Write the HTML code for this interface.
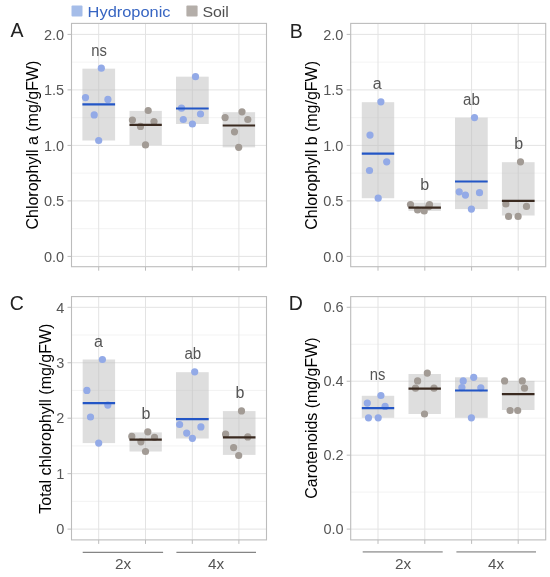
<!DOCTYPE html>
<html><head><meta charset="utf-8"><style>
html,body{margin:0;padding:0;background:#fff;}
body{width:550px;height:577px;overflow:hidden;}
svg{display:block;font-family:"Liberation Sans", sans-serif;will-change:transform;}
</style></head><body>
<svg width="550" height="577" viewBox="0 0 550 577">
<line x1="71.5" x2="266.5" y1="228.65" y2="228.65" stroke="#f0f0f0" stroke-width="0.8"/>
<line x1="71.5" x2="266.5" y1="173.15" y2="173.15" stroke="#f0f0f0" stroke-width="0.8"/>
<line x1="71.5" x2="266.5" y1="117.65" y2="117.65" stroke="#f0f0f0" stroke-width="0.8"/>
<line x1="71.5" x2="266.5" y1="62.15" y2="62.15" stroke="#f0f0f0" stroke-width="0.8"/>
<line x1="71.5" x2="266.5" y1="256.40" y2="256.40" stroke="#e3e3e3" stroke-width="1"/>
<line x1="71.5" x2="266.5" y1="200.90" y2="200.90" stroke="#e3e3e3" stroke-width="1"/>
<line x1="71.5" x2="266.5" y1="145.40" y2="145.40" stroke="#e3e3e3" stroke-width="1"/>
<line x1="71.5" x2="266.5" y1="89.90" y2="89.90" stroke="#e3e3e3" stroke-width="1"/>
<line x1="71.5" x2="266.5" y1="34.40" y2="34.40" stroke="#e3e3e3" stroke-width="1"/>
<line x1="98.70" x2="98.70" y1="23.4" y2="266.7" stroke="#e3e3e3" stroke-width="1"/>
<line x1="145.50" x2="145.50" y1="23.4" y2="266.7" stroke="#e3e3e3" stroke-width="1"/>
<line x1="192.30" x2="192.30" y1="23.4" y2="266.7" stroke="#e3e3e3" stroke-width="1"/>
<line x1="238.90" x2="238.90" y1="23.4" y2="266.7" stroke="#e3e3e3" stroke-width="1"/>
<line x1="67.5" x2="71.5" y1="256.40" y2="256.40" stroke="#bcbcbc" stroke-width="1"/>
<text x="64.2" y="261.60" text-anchor="end" font-size="14.5" fill="#555555">0.0</text>
<line x1="67.5" x2="71.5" y1="200.90" y2="200.90" stroke="#bcbcbc" stroke-width="1"/>
<text x="64.2" y="206.10" text-anchor="end" font-size="14.5" fill="#555555">0.5</text>
<line x1="67.5" x2="71.5" y1="145.40" y2="145.40" stroke="#bcbcbc" stroke-width="1"/>
<text x="64.2" y="150.60" text-anchor="end" font-size="14.5" fill="#555555">1.0</text>
<line x1="67.5" x2="71.5" y1="89.90" y2="89.90" stroke="#bcbcbc" stroke-width="1"/>
<text x="64.2" y="95.10" text-anchor="end" font-size="14.5" fill="#555555">1.5</text>
<line x1="67.5" x2="71.5" y1="34.40" y2="34.40" stroke="#bcbcbc" stroke-width="1"/>
<text x="64.2" y="39.60" text-anchor="end" font-size="14.5" fill="#555555">2.0</text>
<line x1="98.70" x2="98.70" y1="266.7" y2="270.7" stroke="#bcbcbc" stroke-width="1"/>
<line x1="145.50" x2="145.50" y1="266.7" y2="270.7" stroke="#bcbcbc" stroke-width="1"/>
<line x1="192.30" x2="192.30" y1="266.7" y2="270.7" stroke="#bcbcbc" stroke-width="1"/>
<line x1="238.90" x2="238.90" y1="266.7" y2="270.7" stroke="#bcbcbc" stroke-width="1"/>
<text transform="translate(37.6,145.1) rotate(-90)" text-anchor="middle" font-size="15.9" textLength="168.9" lengthAdjust="spacingAndGlyphs" fill="#000">Chlorophyll a (mg/gFW)</text>
<rect x="82.4" y="68.7" width="32.70" height="71.80" fill="#bdbdbd" fill-opacity="0.5"/>
<circle cx="101.3" cy="68.2" r="3.6" fill="#93aae7"/>
<circle cx="85.5" cy="97.6" r="3.6" fill="#93aae7"/>
<circle cx="107.9" cy="99.4" r="3.6" fill="#93aae7"/>
<circle cx="94.2" cy="114.9" r="3.6" fill="#93aae7"/>
<circle cx="98.7" cy="140.5" r="3.6" fill="#93aae7"/>
<line x1="82.4" x2="115.1" y1="104.3" y2="104.3" stroke="#2356c6" stroke-width="2.2"/>
<rect x="129.5" y="110.9" width="32.30" height="34.20" fill="#bdbdbd" fill-opacity="0.5"/>
<circle cx="148.2" cy="110.5" r="3.6" fill="#a29b95"/>
<circle cx="132.4" cy="120" r="3.6" fill="#a29b95"/>
<circle cx="154" cy="121.5" r="3.6" fill="#a29b95"/>
<circle cx="140.5" cy="126.4" r="3.6" fill="#a29b95"/>
<circle cx="145.5" cy="144.9" r="3.6" fill="#a29b95"/>
<line x1="129.5" x2="161.8" y1="124.9" y2="124.9" stroke="#3a2a20" stroke-width="2.2"/>
<rect x="176.0" y="76.7" width="32.70" height="47.30" fill="#bdbdbd" fill-opacity="0.5"/>
<circle cx="195.5" cy="76.7" r="3.6" fill="#93aae7"/>
<circle cx="181.5" cy="108.2" r="3.6" fill="#93aae7"/>
<circle cx="200.5" cy="114" r="3.6" fill="#93aae7"/>
<circle cx="183.3" cy="119.5" r="3.6" fill="#93aae7"/>
<circle cx="192.4" cy="124" r="3.6" fill="#93aae7"/>
<line x1="176.0" x2="208.7" y1="108.5" y2="108.5" stroke="#2356c6" stroke-width="2.2"/>
<rect x="222.7" y="112.2" width="32.40" height="35.10" fill="#bdbdbd" fill-opacity="0.5"/>
<circle cx="242" cy="111.8" r="3.6" fill="#a29b95"/>
<circle cx="225.1" cy="117.6" r="3.6" fill="#a29b95"/>
<circle cx="247.8" cy="119.5" r="3.6" fill="#a29b95"/>
<circle cx="234.5" cy="131.8" r="3.6" fill="#a29b95"/>
<circle cx="238.7" cy="147.3" r="3.6" fill="#a29b95"/>
<line x1="222.7" x2="255.1" y1="125.5" y2="125.5" stroke="#3a2a20" stroke-width="2.2"/>
<rect x="71.5" y="23.4" width="195.0" height="243.3" fill="none" stroke="#bcbcbc" stroke-width="1.1"/>
<text x="99.0" y="55.7" text-anchor="middle" font-size="16" textLength="15.6" lengthAdjust="spacingAndGlyphs" fill="#555555">ns</text>
<line x1="350.7" x2="545.7" y1="228.65" y2="228.65" stroke="#f0f0f0" stroke-width="0.8"/>
<line x1="350.7" x2="545.7" y1="173.15" y2="173.15" stroke="#f0f0f0" stroke-width="0.8"/>
<line x1="350.7" x2="545.7" y1="117.65" y2="117.65" stroke="#f0f0f0" stroke-width="0.8"/>
<line x1="350.7" x2="545.7" y1="62.15" y2="62.15" stroke="#f0f0f0" stroke-width="0.8"/>
<line x1="350.7" x2="545.7" y1="256.40" y2="256.40" stroke="#e3e3e3" stroke-width="1"/>
<line x1="350.7" x2="545.7" y1="200.90" y2="200.90" stroke="#e3e3e3" stroke-width="1"/>
<line x1="350.7" x2="545.7" y1="145.40" y2="145.40" stroke="#e3e3e3" stroke-width="1"/>
<line x1="350.7" x2="545.7" y1="89.90" y2="89.90" stroke="#e3e3e3" stroke-width="1"/>
<line x1="350.7" x2="545.7" y1="34.40" y2="34.40" stroke="#e3e3e3" stroke-width="1"/>
<line x1="378.00" x2="378.00" y1="23.4" y2="266.7" stroke="#e3e3e3" stroke-width="1"/>
<line x1="424.80" x2="424.80" y1="23.4" y2="266.7" stroke="#e3e3e3" stroke-width="1"/>
<line x1="471.60" x2="471.60" y1="23.4" y2="266.7" stroke="#e3e3e3" stroke-width="1"/>
<line x1="518.20" x2="518.20" y1="23.4" y2="266.7" stroke="#e3e3e3" stroke-width="1"/>
<line x1="346.7" x2="350.7" y1="256.40" y2="256.40" stroke="#bcbcbc" stroke-width="1"/>
<text x="343.4" y="261.60" text-anchor="end" font-size="14.5" fill="#555555">0.0</text>
<line x1="346.7" x2="350.7" y1="200.90" y2="200.90" stroke="#bcbcbc" stroke-width="1"/>
<text x="343.4" y="206.10" text-anchor="end" font-size="14.5" fill="#555555">0.5</text>
<line x1="346.7" x2="350.7" y1="145.40" y2="145.40" stroke="#bcbcbc" stroke-width="1"/>
<text x="343.4" y="150.60" text-anchor="end" font-size="14.5" fill="#555555">1.0</text>
<line x1="346.7" x2="350.7" y1="89.90" y2="89.90" stroke="#bcbcbc" stroke-width="1"/>
<text x="343.4" y="95.10" text-anchor="end" font-size="14.5" fill="#555555">1.5</text>
<line x1="346.7" x2="350.7" y1="34.40" y2="34.40" stroke="#bcbcbc" stroke-width="1"/>
<text x="343.4" y="39.60" text-anchor="end" font-size="14.5" fill="#555555">2.0</text>
<line x1="378.00" x2="378.00" y1="266.7" y2="270.7" stroke="#bcbcbc" stroke-width="1"/>
<line x1="424.80" x2="424.80" y1="266.7" y2="270.7" stroke="#bcbcbc" stroke-width="1"/>
<line x1="471.60" x2="471.60" y1="266.7" y2="270.7" stroke="#bcbcbc" stroke-width="1"/>
<line x1="518.20" x2="518.20" y1="266.7" y2="270.7" stroke="#bcbcbc" stroke-width="1"/>
<text transform="translate(316.9,145.4) rotate(-90)" text-anchor="middle" font-size="15.9" textLength="168.8" lengthAdjust="spacingAndGlyphs" fill="#000">Chlorophyll b (mg/gFW)</text>
<rect x="361.8" y="102.2" width="32.40" height="96.00" fill="#bdbdbd" fill-opacity="0.5"/>
<circle cx="380.9" cy="101.8" r="3.6" fill="#93aae7"/>
<circle cx="370" cy="135.1" r="3.6" fill="#93aae7"/>
<circle cx="386.7" cy="161.8" r="3.6" fill="#93aae7"/>
<circle cx="369.5" cy="170.5" r="3.6" fill="#93aae7"/>
<circle cx="378.2" cy="198.2" r="3.6" fill="#93aae7"/>
<line x1="361.8" x2="394.2" y1="153.6" y2="153.6" stroke="#2356c6" stroke-width="2.2"/>
<rect x="408.5" y="202.7" width="32.40" height="8.20" fill="#bdbdbd" fill-opacity="0.5"/>
<circle cx="410.5" cy="204.5" r="3.6" fill="#a29b95"/>
<circle cx="417.6" cy="210" r="3.6" fill="#a29b95"/>
<circle cx="424.2" cy="210.9" r="3.6" fill="#a29b95"/>
<circle cx="429.5" cy="204.5" r="3.6" fill="#a29b95"/>
<circle cx="428.8" cy="206.6" r="3.6" fill="#a29b95"/>
<line x1="408.5" x2="440.9" y1="207.6" y2="207.6" stroke="#3a2a20" stroke-width="2.2"/>
<rect x="455.0" y="117.6" width="32.70" height="91.50" fill="#bdbdbd" fill-opacity="0.5"/>
<circle cx="474.5" cy="117.6" r="3.6" fill="#93aae7"/>
<circle cx="459.2" cy="191.8" r="3.6" fill="#93aae7"/>
<circle cx="465.4" cy="195.1" r="3.6" fill="#93aae7"/>
<circle cx="479.5" cy="192.7" r="3.6" fill="#93aae7"/>
<circle cx="471.4" cy="209.1" r="3.6" fill="#93aae7"/>
<line x1="455.0" x2="487.7" y1="181.5" y2="181.5" stroke="#2356c6" stroke-width="2.2"/>
<rect x="501.9" y="162.2" width="32.70" height="53.30" fill="#bdbdbd" fill-opacity="0.5"/>
<circle cx="520.5" cy="161.8" r="3.6" fill="#a29b95"/>
<circle cx="505.9" cy="204" r="3.6" fill="#a29b95"/>
<circle cx="526.5" cy="206.4" r="3.6" fill="#a29b95"/>
<circle cx="508.6" cy="216.4" r="3.6" fill="#a29b95"/>
<circle cx="518.1" cy="216.4" r="3.6" fill="#a29b95"/>
<line x1="501.9" x2="534.6" y1="200.9" y2="200.9" stroke="#3a2a20" stroke-width="2.2"/>
<rect x="350.7" y="23.4" width="195.0" height="243.3" fill="none" stroke="#bcbcbc" stroke-width="1.1"/>
<text x="377.3" y="88.5" text-anchor="middle" font-size="16" fill="#555555">a</text>
<text x="424.6" y="190.0" text-anchor="middle" font-size="16" fill="#555555">b</text>
<text x="471.4" y="104.5" text-anchor="middle" font-size="16" textLength="16.8" lengthAdjust="spacingAndGlyphs" fill="#555555">ab</text>
<text x="518.7" y="148.7" text-anchor="middle" font-size="16" fill="#555555">b</text>
<line x1="71.5" x2="266.5" y1="501.38" y2="501.38" stroke="#f0f0f0" stroke-width="0.8"/>
<line x1="71.5" x2="266.5" y1="445.93" y2="445.93" stroke="#f0f0f0" stroke-width="0.8"/>
<line x1="71.5" x2="266.5" y1="390.48" y2="390.48" stroke="#f0f0f0" stroke-width="0.8"/>
<line x1="71.5" x2="266.5" y1="335.02" y2="335.02" stroke="#f0f0f0" stroke-width="0.8"/>
<line x1="71.5" x2="266.5" y1="529.10" y2="529.10" stroke="#e3e3e3" stroke-width="1"/>
<line x1="71.5" x2="266.5" y1="473.65" y2="473.65" stroke="#e3e3e3" stroke-width="1"/>
<line x1="71.5" x2="266.5" y1="418.20" y2="418.20" stroke="#e3e3e3" stroke-width="1"/>
<line x1="71.5" x2="266.5" y1="362.75" y2="362.75" stroke="#e3e3e3" stroke-width="1"/>
<line x1="71.5" x2="266.5" y1="307.30" y2="307.30" stroke="#e3e3e3" stroke-width="1"/>
<line x1="98.70" x2="98.70" y1="296.6" y2="539.9000000000001" stroke="#e3e3e3" stroke-width="1"/>
<line x1="145.50" x2="145.50" y1="296.6" y2="539.9000000000001" stroke="#e3e3e3" stroke-width="1"/>
<line x1="192.30" x2="192.30" y1="296.6" y2="539.9000000000001" stroke="#e3e3e3" stroke-width="1"/>
<line x1="238.90" x2="238.90" y1="296.6" y2="539.9000000000001" stroke="#e3e3e3" stroke-width="1"/>
<line x1="67.5" x2="71.5" y1="529.10" y2="529.10" stroke="#bcbcbc" stroke-width="1"/>
<text x="64.4" y="534.30" text-anchor="end" font-size="14.5" fill="#555555">0</text>
<line x1="67.5" x2="71.5" y1="473.65" y2="473.65" stroke="#bcbcbc" stroke-width="1"/>
<text x="64.4" y="478.85" text-anchor="end" font-size="14.5" fill="#555555">1</text>
<line x1="67.5" x2="71.5" y1="418.20" y2="418.20" stroke="#bcbcbc" stroke-width="1"/>
<text x="64.4" y="423.40" text-anchor="end" font-size="14.5" fill="#555555">2</text>
<line x1="67.5" x2="71.5" y1="362.75" y2="362.75" stroke="#bcbcbc" stroke-width="1"/>
<text x="64.4" y="367.95" text-anchor="end" font-size="14.5" fill="#555555">3</text>
<line x1="67.5" x2="71.5" y1="307.30" y2="307.30" stroke="#bcbcbc" stroke-width="1"/>
<text x="64.4" y="312.50" text-anchor="end" font-size="14.5" fill="#555555">4</text>
<line x1="98.70" x2="98.70" y1="539.9000000000001" y2="543.9000000000001" stroke="#bcbcbc" stroke-width="1"/>
<line x1="145.50" x2="145.50" y1="539.9000000000001" y2="543.9000000000001" stroke="#bcbcbc" stroke-width="1"/>
<line x1="192.30" x2="192.30" y1="539.9000000000001" y2="543.9000000000001" stroke="#bcbcbc" stroke-width="1"/>
<line x1="238.90" x2="238.90" y1="539.9000000000001" y2="543.9000000000001" stroke="#bcbcbc" stroke-width="1"/>
<text transform="translate(51.2,418.7) rotate(-90)" text-anchor="middle" font-size="15.9" textLength="190.1" lengthAdjust="spacingAndGlyphs" fill="#000">Total chlorophyll (mg/gFW)</text>
<rect x="82.7" y="359.5" width="32.40" height="83.60" fill="#bdbdbd" fill-opacity="0.5"/>
<circle cx="102.4" cy="359.5" r="3.6" fill="#93aae7"/>
<circle cx="86.9" cy="390.4" r="3.6" fill="#93aae7"/>
<circle cx="107.8" cy="405.1" r="3.6" fill="#93aae7"/>
<circle cx="90.5" cy="417" r="3.6" fill="#93aae7"/>
<circle cx="98.7" cy="443.1" r="3.6" fill="#93aae7"/>
<line x1="82.7" x2="115.1" y1="403.1" y2="403.1" stroke="#2356c6" stroke-width="2.2"/>
<rect x="129.5" y="432.4" width="32.30" height="19.10" fill="#bdbdbd" fill-opacity="0.5"/>
<circle cx="147.8" cy="431.8" r="3.6" fill="#a29b95"/>
<circle cx="131.8" cy="436.4" r="3.6" fill="#a29b95"/>
<circle cx="154.5" cy="437.3" r="3.6" fill="#a29b95"/>
<circle cx="140.9" cy="441.8" r="3.6" fill="#a29b95"/>
<circle cx="145.5" cy="451.5" r="3.6" fill="#a29b95"/>
<line x1="129.5" x2="161.8" y1="439.6" y2="439.6" stroke="#3a2a20" stroke-width="2.2"/>
<rect x="176.0" y="372.2" width="32.70" height="66.30" fill="#bdbdbd" fill-opacity="0.5"/>
<circle cx="194.7" cy="371.8" r="3.6" fill="#93aae7"/>
<circle cx="179.6" cy="424.5" r="3.6" fill="#93aae7"/>
<circle cx="200.9" cy="426.9" r="3.6" fill="#93aae7"/>
<circle cx="186.7" cy="433.1" r="3.6" fill="#93aae7"/>
<circle cx="192.4" cy="438.3" r="3.6" fill="#93aae7"/>
<line x1="176.0" x2="208.7" y1="419.1" y2="419.1" stroke="#2356c6" stroke-width="2.2"/>
<rect x="222.9" y="411.1" width="32.60" height="43.80" fill="#bdbdbd" fill-opacity="0.5"/>
<circle cx="241.5" cy="410.9" r="3.6" fill="#a29b95"/>
<circle cx="225.6" cy="434.2" r="3.6" fill="#a29b95"/>
<circle cx="247.8" cy="436.9" r="3.6" fill="#a29b95"/>
<circle cx="233.6" cy="447.6" r="3.6" fill="#a29b95"/>
<circle cx="238.7" cy="455.5" r="3.6" fill="#a29b95"/>
<line x1="222.9" x2="255.5" y1="437.3" y2="437.3" stroke="#3a2a20" stroke-width="2.2"/>
<rect x="71.5" y="296.6" width="195.0" height="243.3" fill="none" stroke="#bcbcbc" stroke-width="1.1"/>
<text x="98.5" y="346.7" text-anchor="middle" font-size="16" fill="#555555">a</text>
<text x="146.0" y="419.1" text-anchor="middle" font-size="16" fill="#555555">b</text>
<text x="192.8" y="359.1" text-anchor="middle" font-size="16" textLength="16.8" lengthAdjust="spacingAndGlyphs" fill="#555555">ab</text>
<text x="239.9" y="397.8" text-anchor="middle" font-size="16" fill="#555555">b</text>
<line x1="350.7" x2="545.7" y1="492.13" y2="492.13" stroke="#f0f0f0" stroke-width="0.8"/>
<line x1="350.7" x2="545.7" y1="418.19" y2="418.19" stroke="#f0f0f0" stroke-width="0.8"/>
<line x1="350.7" x2="545.7" y1="344.25" y2="344.25" stroke="#f0f0f0" stroke-width="0.8"/>
<line x1="350.7" x2="545.7" y1="529.10" y2="529.10" stroke="#e3e3e3" stroke-width="1"/>
<line x1="350.7" x2="545.7" y1="455.16" y2="455.16" stroke="#e3e3e3" stroke-width="1"/>
<line x1="350.7" x2="545.7" y1="381.22" y2="381.22" stroke="#e3e3e3" stroke-width="1"/>
<line x1="350.7" x2="545.7" y1="307.28" y2="307.28" stroke="#e3e3e3" stroke-width="1"/>
<line x1="378.00" x2="378.00" y1="296.6" y2="539.9000000000001" stroke="#e3e3e3" stroke-width="1"/>
<line x1="424.80" x2="424.80" y1="296.6" y2="539.9000000000001" stroke="#e3e3e3" stroke-width="1"/>
<line x1="471.60" x2="471.60" y1="296.6" y2="539.9000000000001" stroke="#e3e3e3" stroke-width="1"/>
<line x1="518.20" x2="518.20" y1="296.6" y2="539.9000000000001" stroke="#e3e3e3" stroke-width="1"/>
<line x1="346.7" x2="350.7" y1="529.10" y2="529.10" stroke="#bcbcbc" stroke-width="1"/>
<text x="343.6" y="534.30" text-anchor="end" font-size="14.5" fill="#555555">0.0</text>
<line x1="346.7" x2="350.7" y1="455.16" y2="455.16" stroke="#bcbcbc" stroke-width="1"/>
<text x="343.6" y="460.36" text-anchor="end" font-size="14.5" fill="#555555">0.2</text>
<line x1="346.7" x2="350.7" y1="381.22" y2="381.22" stroke="#bcbcbc" stroke-width="1"/>
<text x="343.6" y="386.42" text-anchor="end" font-size="14.5" fill="#555555">0.4</text>
<line x1="346.7" x2="350.7" y1="307.28" y2="307.28" stroke="#bcbcbc" stroke-width="1"/>
<text x="343.6" y="312.48" text-anchor="end" font-size="14.5" fill="#555555">0.6</text>
<line x1="378.00" x2="378.00" y1="539.9000000000001" y2="543.9000000000001" stroke="#bcbcbc" stroke-width="1"/>
<line x1="424.80" x2="424.80" y1="539.9000000000001" y2="543.9000000000001" stroke="#bcbcbc" stroke-width="1"/>
<line x1="471.60" x2="471.60" y1="539.9000000000001" y2="543.9000000000001" stroke="#bcbcbc" stroke-width="1"/>
<line x1="518.20" x2="518.20" y1="539.9000000000001" y2="543.9000000000001" stroke="#bcbcbc" stroke-width="1"/>
<text transform="translate(316.9,418.05) rotate(-90)" text-anchor="middle" font-size="15.9" textLength="161.2" lengthAdjust="spacingAndGlyphs" fill="#000">Carotenoids (mg/gFW)</text>
<rect x="361.8" y="395.8" width="32.40" height="22.00" fill="#bdbdbd" fill-opacity="0.5"/>
<circle cx="380.9" cy="395.5" r="3.6" fill="#93aae7"/>
<circle cx="367.3" cy="403.1" r="3.6" fill="#93aae7"/>
<circle cx="385.1" cy="406.4" r="3.6" fill="#93aae7"/>
<circle cx="368.5" cy="417.8" r="3.6" fill="#93aae7"/>
<circle cx="378.2" cy="417.8" r="3.6" fill="#93aae7"/>
<line x1="361.8" x2="394.2" y1="408.2" y2="408.2" stroke="#2356c6" stroke-width="2.2"/>
<rect x="408.5" y="374.0" width="32.40" height="40.00" fill="#bdbdbd" fill-opacity="0.5"/>
<circle cx="427.3" cy="373.1" r="3.6" fill="#a29b95"/>
<circle cx="417.6" cy="380.9" r="3.6" fill="#a29b95"/>
<circle cx="415.5" cy="388.2" r="3.6" fill="#a29b95"/>
<circle cx="434" cy="388.2" r="3.6" fill="#a29b95"/>
<circle cx="424.5" cy="414" r="3.6" fill="#a29b95"/>
<line x1="408.5" x2="440.9" y1="388.7" y2="388.7" stroke="#3a2a20" stroke-width="2.2"/>
<rect x="455.0" y="377.3" width="32.70" height="40.50" fill="#bdbdbd" fill-opacity="0.5"/>
<circle cx="473.7" cy="377.3" r="3.6" fill="#93aae7"/>
<circle cx="463.2" cy="380.9" r="3.6" fill="#93aae7"/>
<circle cx="461.9" cy="387.6" r="3.6" fill="#93aae7"/>
<circle cx="480.8" cy="387.8" r="3.6" fill="#93aae7"/>
<circle cx="471.4" cy="417.8" r="3.6" fill="#93aae7"/>
<line x1="455.0" x2="487.7" y1="390.5" y2="390.5" stroke="#2356c6" stroke-width="2.2"/>
<rect x="501.9" y="380.9" width="32.60" height="29.10" fill="#bdbdbd" fill-opacity="0.5"/>
<circle cx="504.6" cy="380.9" r="3.6" fill="#a29b95"/>
<circle cx="522.3" cy="380.9" r="3.6" fill="#a29b95"/>
<circle cx="524.5" cy="388.2" r="3.6" fill="#a29b95"/>
<circle cx="510.1" cy="410.5" r="3.6" fill="#a29b95"/>
<circle cx="517.7" cy="410.5" r="3.6" fill="#a29b95"/>
<line x1="501.9" x2="534.5" y1="394.2" y2="394.2" stroke="#3a2a20" stroke-width="2.2"/>
<rect x="350.7" y="296.6" width="195.0" height="243.3" fill="none" stroke="#bcbcbc" stroke-width="1.1"/>
<text x="377.5" y="380.4" text-anchor="middle" font-size="16" textLength="15.6" lengthAdjust="spacingAndGlyphs" fill="#555555">ns</text>
<line x1="82.7" x2="163.1" y1="552.3" y2="552.3" stroke="#858585" stroke-width="1.2"/>
<text x="123.0" y="568.7" text-anchor="middle" font-size="15.3" fill="#555555">2x</text>
<line x1="176.4" x2="256.0" y1="552.3" y2="552.3" stroke="#858585" stroke-width="1.2"/>
<text x="216.2" y="568.7" text-anchor="middle" font-size="15.3" fill="#555555">4x</text>
<line x1="362.7" x2="442.7" y1="551.9" y2="551.9" stroke="#acacac" stroke-width="1.9"/>
<text x="403.0" y="568.7" text-anchor="middle" font-size="15.3" fill="#555555">2x</text>
<line x1="456.4" x2="536.0" y1="551.9" y2="551.9" stroke="#acacac" stroke-width="1.9"/>
<text x="496.2" y="568.7" text-anchor="middle" font-size="15.3" fill="#555555">4x</text>
<text x="10.4" y="37.4" font-size="19.5" fill="#222">A</text>
<text x="289.7" y="37.5" font-size="19.5" fill="#222">B</text>
<text x="9.8" y="310.1" font-size="19.5" fill="#222">C</text>
<text x="288.7" y="309.9" font-size="19.5" fill="#222">D</text>
<rect x="71.5" y="5.5" width="11" height="11" rx="1" fill="#a5bde9"/>
<text x="87.6" y="17.2" font-size="14.3" fill="#3765c2" textLength="83" lengthAdjust="spacingAndGlyphs">Hydroponic</text>
<rect x="186.4" y="5.5" width="11.2" height="11" rx="1" fill="#b4aea9"/>
<text x="202.4" y="17.2" font-size="14.3" fill="#505050" textLength="26.5" lengthAdjust="spacingAndGlyphs">Soil</text>
</svg>
</body></html>
